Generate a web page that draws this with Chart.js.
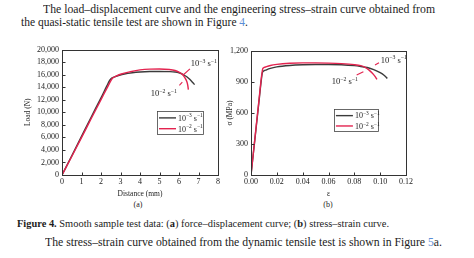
<!DOCTYPE html>
<html><head><meta charset="utf-8">
<script src="https://cdn.jsdelivr.net/npm/chart.js@4.4.1/dist/chart.umd.min.js"></script>
<style>
html,body{margin:0;padding:0;background:#fff;width:474px;height:258px;overflow:hidden;position:relative;}
.t{position:absolute;white-space:nowrap;font-family:'Liberation Serif','DejaVu Serif',serif;color:#1c1c1c;transform-origin:0 0;line-height:1;}
.lnk{color:#5b8dd6;}
canvas{position:absolute;}
</style></head><body>
<div class="t" data-w="392" style="left:43px;top:3.2px;font-size:12.3px">The load–displacement curve and the engineering stress–strain curve obtained from</div>
<div class="t" data-w="227" style="left:21px;top:16.2px;font-size:12.3px">the quasi-static tensile test are shown in Figure <span class="lnk">4</span>.</div>
<div class="t" data-c="138" style="top:201.4px;font-size:8px">(a)</div>
<div class="t" data-c="328" style="top:201.4px;font-size:8px">(b)</div>
<div class="t" data-w="372" style="left:17px;top:219px;font-size:10.5px"><b>Figure 4.</b> Smooth sample test data: (<b>a</b>) force–displacement curve; (<b>b</b>) stress–strain curve.</div>
<div class="t" data-w="397" style="left:45px;top:236.2px;font-size:12.3px">The stress–strain curve obtained from the dynamic tensile test is shown in Figure <span class="lnk">5</span>a.</div>
<canvas id="ca" width="240" height="162" style="left:0px;top:40px;width:240px;height:162px"></canvas>
<canvas id="cb" width="259" height="162" style="left:215px;top:40px;width:259px;height:162px"></canvas>
<script>
// ---------- DATA ----------
const seriesLabels = ['10⁻³ s⁻¹', '10⁻² s⁻¹'];

// (a) load–displacement
const distSlow = [0, 0.5, 1.0, 1.5, 2.0, 2.3, 2.45, 2.55, 2.7, 2.9, 3.2, 3.6, 4.0, 4.5, 5.0, 5.5, 5.8, 6.0, 6.2, 6.4, 6.55, 6.7, 6.8];
const loadSlow = [0, 3050, 6150, 9250, 12300, 14200, 15100, 15450, 15650, 15850, 16100, 16300, 16420, 16490, 16500, 16480, 16420, 16300, 16050, 15650, 15250, 14750, 14400];
const distFast = [0, 0.5, 1.0, 1.5, 2.0, 2.3, 2.5, 2.6, 2.8, 3.0, 3.5, 4.0, 4.5, 5.0, 5.5, 5.8, 6.0, 6.15, 6.3, 6.4, 6.45, 6.48];
const loadFast = [0, 2950, 5950, 9000, 12000, 13800, 15000, 15450, 15800, 16050, 16450, 16750, 16880, 16900, 16820, 16650, 16400, 16100, 15500, 14900, 14300, 13600];
const distTicks = [0, 1, 2, 3, 4, 5, 6, 7, 8];
const loadTicks = [0, 2000, 4000, 6000, 8000, 10000, 12000, 14000, 16000, 18000, 20000];

// (b) stress–strain
const strainSlow = [0, 0.002, 0.004, 0.006, 0.008, 0.0088, 0.0095, 0.012, 0.015, 0.02, 0.03, 0.04, 0.05, 0.06, 0.07, 0.08, 0.085, 0.09, 0.095, 0.1, 0.103, 0.1055];
const stressSlow = [0, 230, 460, 690, 920, 990, 1003, 1018, 1032, 1046, 1060, 1067, 1070, 1070, 1067, 1058, 1050, 1040, 1020, 990, 965, 935];
const strainFast = [0, 0.002, 0.004, 0.006, 0.008, 0.009, 0.0095, 0.012, 0.015, 0.02, 0.03, 0.04, 0.05, 0.06, 0.07, 0.08, 0.085, 0.088, 0.091, 0.094, 0.096, 0.0975];
const stressFast = [0, 235, 470, 705, 940, 1025, 1035, 1048, 1060, 1071, 1082, 1085, 1085, 1083, 1078, 1068, 1058, 1045, 1020, 985, 955, 925];
const strainTicks = [0, 0.02, 0.04, 0.06, 0.08, 0.10, 0.12];
const stressTicks = [0, 300, 600, 900, 1200];

// ---------- text fitting ----------
document.querySelectorAll('.t').forEach(el => {
  const w = el.getBoundingClientRect().width;
  if (el.dataset.w) el.style.transform = 'scaleX(' + (parseFloat(el.dataset.w) / w) + ')';
  if (el.dataset.c) el.style.left = (parseFloat(el.dataset.c) - w / 2) + 'px';
});

// ---------- helpers ----------
const SERIF = '"Liberation Serif","DejaVu Serif",serif';
const SUP = {'⁻':'−','⁰':'0','¹':'1','²':'2','³':'3','⁴':'4','⁵':'5','⁶':'6','⁷':'7','⁸':'8','⁹':'9'};
function parseRich(str) {
  const parts = []; let cur = '', curSup = null;
  for (const ch of str) {
    const sup = ch in SUP;
    if (curSup !== null && sup !== curSup) { parts.push([cur, curSup]); cur = ''; }
    cur += sup ? SUP[ch] : ch; curSup = sup;
  }
  if (cur) parts.push([cur, curSup]);
  return parts;
}
function drawRich(ctx, x, y, str, size, color) {
  let cx = x;
  ctx.fillStyle = color; ctx.textBaseline = 'alphabetic'; ctx.textAlign = 'left';
  parseRich(str).forEach(([s, sup]) => {
    ctx.font = (sup ? size * 0.68 : size) + 'px ' + SERIF;
    ctx.fillText(s, cx, sup ? y - size * 0.4 : y);
    cx += ctx.measureText(s).width;
  });
}
const pts = (xs, ys) => xs.map((v, i) => ({x: v, y: ys[i]}));
const COL_SLOW = '#3b3b3b', COL_FAST = '#e3234f', AXIS = '#333';

const decor = {
  id: 'decor',
  afterDatasetsDraw(chart, args, o) {
    const {ctx, chartArea: a, scales: {x, y}} = chart;
    ctx.save();
    ctx.strokeStyle = AXIS; ctx.lineWidth = 1;
    const L = Math.round(a.left) + 0.5, T = Math.round(a.top) + 0.5, R = Math.round(a.right) + 0.5, B = Math.round(a.bottom) + 0.5;
    ctx.strokeRect(L, T, R - L, B - T);
    ctx.beginPath();
    x.ticks.forEach(t => { const px = Math.round(x.getPixelForValue(t.value)) + 0.5; ctx.moveTo(px, B); ctx.lineTo(px, B - 3); });
    y.ticks.forEach(t => { const py = Math.round(y.getPixelForValue(t.value)) + 0.5; ctx.moveTo(L, py); ctx.lineTo(L + 3, py); });
    ctx.stroke();
    // legend box
    const lg = o.legend;
    const bx = a.left + lg.fx * (a.right - a.left), by = a.top + lg.fy * (a.bottom - a.top);
    ctx.lineWidth = 0.8; ctx.strokeStyle = '#444';
    ctx.strokeRect(Math.round(bx) + 0.5, Math.round(by) + 0.5, lg.w, lg.h);
    chart.data.datasets.forEach((ds, i) => {
      const ly = by + lg.h * (i === 0 ? 0.3 : 0.77);
      ctx.strokeStyle = ds.borderColor; ctx.lineWidth = 1.4;
      ctx.beginPath(); ctx.moveTo(bx + 2, ly); ctx.lineTo(bx + 19, ly); ctx.stroke();
      drawRich(ctx, bx + 21, ly + 2.8, ds.label, 8, '#222');
    });
    // pointer dashes
    ctx.strokeStyle = COL_FAST; ctx.lineWidth = 1.1;
    o.pointers.forEach(p => {
      ctx.beginPath();
      ctx.moveTo(x.getPixelForValue(p[0]), y.getPixelForValue(p[1]));
      ctx.lineTo(x.getPixelForValue(p[2]), y.getPixelForValue(p[3]));
      ctx.stroke();
    });
    // notes
    o.notes.forEach(n => {
      drawRich(ctx, x.getPixelForValue(n.x), y.getPixelForValue(n.y) + 2.8, chart.data.datasets[n.ds].label, 8.5, '#222');
    });
    ctx.restore();
  }
};

function makeChart(id, cfg) {
  const tickFont = {family: SERIF, size: 8};
  const titleFont = {family: SERIF, size: 7.5};
  return new Chart(document.getElementById(id), {
    type: 'scatter',
    data: {
      datasets: [
        {label: seriesLabels[0], data: pts(cfg.xs[0], cfg.ys[0]), borderColor: COL_SLOW, order: 1},
        {label: seriesLabels[1], data: pts(cfg.xs[1], cfg.ys[1]), borderColor: COL_FAST, order: 0}
      ].map(d => Object.assign(d, {showLine: true, pointRadius: 0, borderWidth: 1.4, cubicInterpolationMode: 'monotone', fill: false}))
    },
    options: {
      responsive: false, animation: false, devicePixelRatio: 1,
      layout: {padding: cfg.pad},
      plugins: {legend: {display: false}, tooltip: {enabled: false}, decor: cfg.decor},
      scales: {
        x: {
          type: 'linear', min: cfg.xTicks[0], max: cfg.xTicks[cfg.xTicks.length - 1],
          afterBuildTicks: s => { s.ticks = cfg.xTicks.map(v => ({value: v})); },
          ticks: {font: tickFont, color: '#222', padding: 2, maxRotation: 0, autoSkip: false, callback: cfg.xFmt},
          grid: {display: false, drawTicks: false}, border: {display: false},
          title: {display: true, text: cfg.xTitle, font: titleFont, color: '#222', padding: {top: 0, bottom: 3.5}},
          afterFit: s => { s.height = 27; }
        },
        y: {
          type: 'linear', min: cfg.yTicks[0], max: cfg.yTicks[cfg.yTicks.length - 1],
          afterBuildTicks: s => { s.ticks = cfg.yTicks.map(v => ({value: v})); },
          ticks: {font: tickFont, color: '#222', padding: 3, autoSkip: false},
          grid: {display: false, drawTicks: false}, border: {display: false},
          title: {display: true, text: cfg.yTitle, font: titleFont, color: '#222', padding: {top: cfg.yTitlePad, bottom: 0}},
          afterFit: s => { s.width = cfg.yW; }
        }
      }
    },
    plugins: [decor]
  });
}

makeChart('ca', {
  xs: [distSlow, distFast], ys: [loadSlow, loadFast],
  xTicks: distTicks, yTicks: loadTicks, xFmt: v => String(v),
  xTitle: 'Distance (mm)', yTitle: 'Load (N)', yTitlePad: 23.5, yW: 62,
  pad: {left: 0, top: 9.5, right: 22, bottom: 0},
  decor: {
    legend: {fx: 0.609, fy: 0.49, w: 46, h: 23},
    pointers: [[6.2, 15900, 6.56, 16900], [6.17, 14800, 6.02, 14300]],
    notes: [{x: 6.6, y: 17800, ds: 0}, {x: 4.55, y: 13000, ds: 1}]
  }
});

makeChart('cb', {
  xs: [strainSlow, strainFast], ys: [stressSlow, stressFast],
  xTicks: strainTicks, yTicks: stressTicks, xFmt: v => Number(v).toFixed(2),
  xTitle: 'ε', yTitle: 'σ (MPa)', yTitlePad: 10.5, yW: 36,
  pad: {left: 0, top: 11, right: 68, bottom: 0},
  decor: {
    legend: {fx: 0.535, fy: 0.468, w: 44, h: 22},
    pointers: [[0.096, 1065, 0.0991, 1087], [0.0818, 968, 0.087, 1000]],
    notes: [{x: 0.1004, y: 1113, ds: 0}, {x: 0.0625, y: 903, ds: 1}]
  }
});
</script>
</body></html>
